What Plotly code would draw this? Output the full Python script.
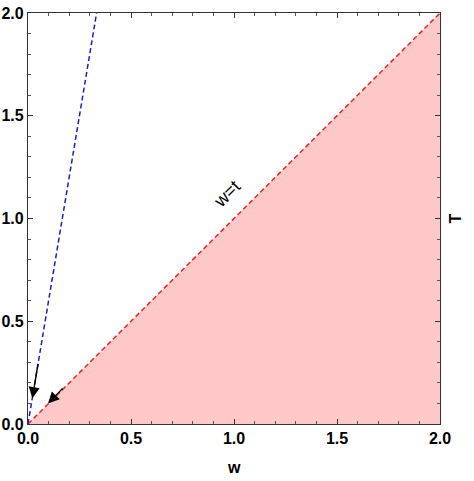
import plotly.graph_objects as go

# w = t boundary (red) and the steep blue trajectory
w_diag = [0, 2]
t_diag = [0, 2]
w_blue = [0, 0.333]
t_blue = [0, 2]

# arrows (tip, tail) in data coords
arrow_tips = [(0.021, 0.125), (0.097, 0.1)]
arrow_tails = [(0.05, 0.30), (0.175, 0.18)]

tick_vals = [0, 0.5, 1.0, 1.5, 2.0]
tick_text = ["0.0", "0.5", "1.0", "1.5", "2.0"]

fig = go.Figure()
fig.add_trace(go.Scatter(x=w_diag, y=t_diag, mode="lines", fill="tozeroy",
                         fillcolor="rgb(255,200,200)",
                         line=dict(color="rgb(225,40,40)", width=1.5, dash="5px,3px")))
fig.add_trace(go.Scatter(x=w_blue, y=t_blue, mode="lines",
                         line=dict(color="rgb(30,30,200)", width=1.5, dash="5px,3px")))

for (xt, yt), (xa, ya) in zip(arrow_tips, arrow_tails):
    fig.add_annotation(x=xt, y=yt, ax=xa, ay=ya, xref="x", yref="y", axref="x", ayref="y",
                       showarrow=True, arrowhead=2, arrowsize=1.6, arrowwidth=1.4,
                       arrowcolor="black", text="")

fig.add_annotation(x=0.965, y=1.12, text="w=t", showarrow=False, textangle=-45,
                   font=dict(family="Liberation Sans", size=18, color="black"))
fig.add_annotation(x=0.5, y=0, xref="paper", yref="paper", yshift=-54, text="w",
                   showarrow=False, font=dict(family="Liberation Sans", size=16, color="black", weight="bold"))
fig.add_annotation(x=1, y=0.5, xref="paper", yref="paper", xanchor="center", yanchor="middle",
                   xshift=15, text="T", textangle=-90,
                   showarrow=False, font=dict(family="Liberation Sans", size=16, color="black", weight="bold"))

axis_style = dict(range=[0, 2], showgrid=False, zeroline=False, showline=True, automargin=False,
                  linecolor="#333333", linewidth=1.2, mirror="allticks",
                  ticks="inside", ticklen=5, tickcolor="#333333",
                  tickvals=tick_vals, ticktext=tick_text,
                  minor=dict(ticks="inside", ticklen=3, dtick=0.1, tickcolor="#555555"),
                  tickfont=dict(family="Liberation Sans", size=16, color="black", weight="bold"))

fig.update_xaxes(**axis_style)
fig.update_yaxes(**axis_style)
fig.update_layout(width=474, height=481, showlegend=False,
                  margin=dict(l=28, r=34, t=13, b=57),
                  plot_bgcolor="white", paper_bgcolor="white")
fig.write_html("out.html", config={"displayModeBar": False},
               post_script="document.body.style.margin='0px';")
